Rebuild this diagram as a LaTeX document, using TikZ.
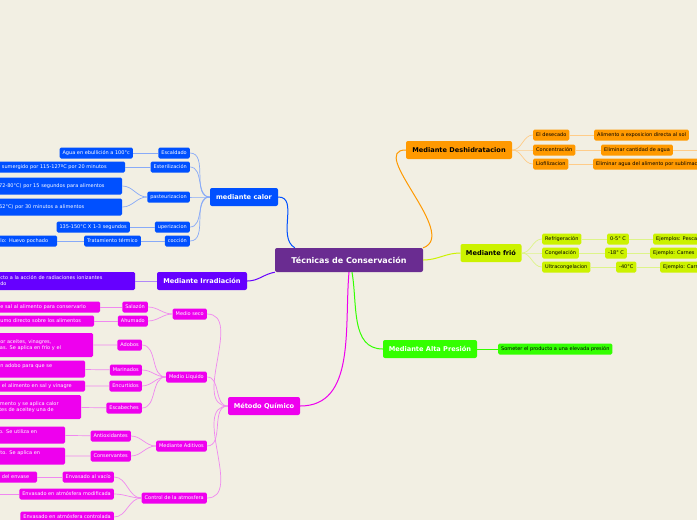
\documentclass[tikz,border=0pt]{standalone}
\usepackage{fontspec}
\setmainfont{DejaVu Sans}
\begin{document}
\begin{tikzpicture}[x=1pt,y=-1pt,
 box/.style={rounded corners=1.5pt,inner xsep=3pt,inner ysep=1.5pt,minimum height=11pt,font=\fontsize{5}{6}\selectfont,text=white},
 big/.style={rounded corners=2pt,inner xsep=5pt,minimum height=18pt,font=\fontsize{6.6}{8}\bfseries\selectfont,text=white},
 cut/.style={box,anchor=west,align=left},
 lk/.style={line width=0.7pt,out=180,in=0},
 rk/.style={line width=0.7pt,out=0,in=180}]
\definecolor{bg}{HTML}{F2EFE3}
\definecolor{pur}{HTML}{6A2C91}
\definecolor{ora}{HTML}{FF9900}\definecolor{oral}{HTML}{FFCC88}
\definecolor{lim}{HTML}{CCF200}\definecolor{liml}{HTML}{DDF488}
\definecolor{grn}{HTML}{33FF00}
\definecolor{mag}{HTML}{EE00EE}\definecolor{magl}{HTML}{F088F0}
\definecolor{vio}{HTML}{6600FF}\definecolor{viol}{HTML}{B088F8}
\definecolor{blu}{HTML}{0050FF}\definecolor{blul}{HTML}{88AAF8}
\fill[bg] (0,0) rectangle (697,520);
\useasboundingbox (0,0) rectangle (697,520);
\clip (0,0) rectangle (697,520);
% central
\node[big,fill=pur,minimum width=148pt,minimum height=24pt,font=\fontsize{8}{9}\bfseries\selectfont] (c) at (349,260) {Técnicas de Conservación};
% deshidratacion
\node[big,fill=ora,text=black,minimum width=106pt] (d) at (459,150) {Mediante Deshidratacion};
\node[box,fill=ora,text=black,anchor=west] (d1) at (533,135) {El desecado};
\node[box,fill=ora,text=black,anchor=west] (d2) at (533,150) {Concentración};
\node[box,fill=ora,text=black,anchor=west] (d3) at (533,164) {Liofilizacion};
\node[box,fill=ora,text=black,anchor=west] (d1a) at (594,135) {Alimento a exposicion directa al sol};
\node[box,fill=ora,text=black,anchor=west] (d2a) at (601,150) {Eliminar cantidad de agua};
\node[box,fill=ora,text=black,anchor=west] (d3a) at (593,164) {Eliminar agua del alimento por sublimación};
\coordinate (d2b) at (700,150);
\draw[ora,line width=1pt] (c.north east) to[out=20,in=180] (d.west);
\foreach \n in {d1,d2,d3} \draw[oral,rk] (d.east) to (\n.west);
\draw[oral,rk] (d1) -- (d1a); \draw[oral,rk] (d2) -- (d2a); \draw[oral,rk] (d3) -- (d3a); \draw[oral,line width=0.7pt] (d2a) -- (d2b);
% frio
\node[big,fill=lim,text=black,minimum width=61pt] (f) at (491,253) {Mediante frió};
\node[box,fill=lim,text=black,anchor=west] (f1) at (542,239) {Refrigeración};
\node[box,fill=lim,text=black,anchor=west] (f2) at (542,253) {Congelación};
\node[box,fill=lim,text=black,anchor=west] (f3) at (542,267) {Ultracongelacion};
\node[box,fill=lim,text=black,anchor=west] (f1a) at (607,239) {0-5° C};
\node[box,fill=lim,text=black,anchor=west] (f2a) at (605,253) {-18° C};
\node[box,fill=lim,text=black,anchor=west] (f3a) at (616,267) {-40°C};
\node[box,fill=lim,text=black,anchor=west] (f1b) at (653,239) {Ejemplos: Pescados};
\node[box,fill=lim,text=black,anchor=west] (f2b) at (650,253) {Ejemplo: Carnes};
\node[box,fill=lim,text=black,anchor=west] (f3b) at (660,267) {Ejemplo: Carnes};
\draw[lim,line width=1pt] (c.east) to[out=0,in=180] (f.west);
\foreach \n in {f1,f2,f3} \draw[liml,rk] (f.east) to (\n.west);
\draw[liml,rk] (f1)--(f1a) (f1a)--(f1b) (f2)--(f2a) (f2a)--(f2b) (f3)--(f3a) (f3a)--(f3b);
% alta presion
\node[big,fill=grn,minimum width=94pt] (p) at (430,349) {Mediante Alta Presión};
\node[box,fill=grn,text=black,anchor=west] (p1) at (498,349) {Someter el producto a una elevada presión};
\draw[grn,line width=1pt] (c.south) ++(3,0) coordinate (cp) to[out=-80,in=180] (p.west);
\draw[grn,line width=0.7pt] (p) -- (p1);
% irradiacion
\node[big,fill=vio,minimum width=90pt] (i) at (202,281) {Mediante Irradiación};
\node[cut,fill=vio,text width=135pt,minimum height=18pt] (i1) at (-6,281) {ucto a la acción de radiaciones ionizantes\\odo};
\draw[vio,line width=1pt] (c.south west) to[out=190,in=0] (i.east);
\draw[viol,line width=0.7pt] (i) -- (i1);
% calor
\node[big,fill=blu,minimum width=68pt] (k) at (244,197) {mediante calor};
\node[box,fill=blu,anchor=east] (k1) at (190,153) {Escaldado};
\node[box,fill=blu,anchor=east] (k2) at (190,167) {Esterilización};
\node[box,fill=blu,anchor=east] (k3) at (190,197) {pasteurizacion};
\node[box,fill=blu,anchor=east] (k4) at (190,227) {uperizacion};
\node[box,fill=blu,anchor=east] (k5) at (190,241) {cocción};
\node[box,fill=blu,anchor=east] (k1a) at (133,153) {Agua en ebullición a 100°c};
\node[cut,fill=blu,text width=125pt] (k2a) at (-6,167) {a sumergido por 115-127ºC por 20 minutos};
\node[cut,fill=blu,text width=122pt,minimum height=17pt] (k3a) at (-6,186) {(72-80°C) por 15 segundos para alimentos};
\node[cut,fill=blu,text width=122pt,minimum height=17pt] (k3b) at (-6,207) {(62°C) por 30 minutos a alimentos};
\node[box,fill=blu,anchor=east] (k4a) at (130,227) {135-150°C X 1-3 segundos};
\node[box,fill=blu,anchor=east] (k5a) at (141,241) {Tratamiento térmico};
\node[cut,fill=blu,text width=57pt] (k5b) at (-6,241) {plo: Huevo pochado};
\draw[blu,line width=1pt] (c.north west) ++(20,0) to[out=150,in=0] (k.east);
\foreach \n in {k1,k2,k3,k4,k5} \draw[blul,lk] (k.west) to (\n.east);
\draw[blul,line width=0.7pt] (k1)--(k1a) (k2)--(k2a) (k4)--(k4a) (k5)--(k5a) (k5a)--(k5b);
\draw[blul,lk] (k3.west) to (k3a.east); \draw[blul,lk] (k3.west) to (k3b.east);
% quimico
\node[big,fill=mag,minimum width=72pt] (q) at (264,406) {Método Químico};
\draw[mag,line width=1pt] (c.south) to[out=-95,in=0] (q.east);
\node[box,fill=mag,anchor=east] (q1) at (207,314) {Medio seco};
\node[box,fill=mag,anchor=east] (q2) at (207,377) {Medio Liquido};
\node[box,fill=mag,anchor=east] (q3) at (207,446) {Mediante Aditivos};
\node[box,fill=mag,anchor=east] (q4) at (207,498) {Control de la atmosfera};
\foreach \n in {q1,q2,q3,q4} \draw[magl,lk] (q.west) to (\n.east);
\node[box,fill=mag,anchor=east] (s1) at (148,307) {Salazón};
\node[box,fill=mag,anchor=east] (s2) at (148,321) {Ahumado};
\node[cut,fill=mag,text width=100pt] (s1a) at (-6,307) {de sal al alimento para conservarlo};
\node[cut,fill=mag,text width=94pt] (s2a) at (-6,321) {humo directo sobre los alimentos};
\foreach \n in {s1,s2} \draw[magl,lk] (q1.west) to (\n.east);
\draw[magl,line width=0.7pt] (s1)--(s1a) (s2)--(s2a);
\node[box,fill=mag,anchor=east] (l1) at (142,345) {Adobos};
\node[box,fill=mag,anchor=east] (l2) at (142,370) {Marinados};
\node[box,fill=mag,anchor=east] (l3) at (142,386) {Encurtidos};
\node[box,fill=mag,anchor=east] (l4) at (142,408) {Escabeches};
\node[cut,fill=mag,text width=93pt,minimum height=24pt] (l1a) at (-6,345) {por aceites, vinagres,\\cas. Se aplica en frío y el};
\node[cut,fill=mag,text width=85pt,minimum height=17pt] (l2a) at (-6,369) {on adobo para que se\\\strut};
\node[cut,fill=mag,text width=85pt] (l3a) at (-6,386) {e el alimento en sal y vinagre};
\node[cut,fill=mag,text width=81pt,minimum height=24pt] (l4a) at (-6,407) {limento y se aplica calor\\rtes de aceitey una de};
\foreach \n in {l1,l2,l3,l4} \draw[magl,lk] (q2.west) to (\n.east);
\draw[magl,line width=0.7pt] (l1)--(l1a) (l2)--(l2a) (l3)--(l3a) (l4)--(l4a);
\node[box,fill=mag,anchor=east] (a1) at (131,436) {Antioxidantes};
\node[box,fill=mag,anchor=east] (a2) at (131,456) {Conservantes};
\node[cut,fill=mag,text width=65pt,minimum height=17pt] (a1a) at (-6,435) {to. Se utiliza en\\\strut};
\node[cut,fill=mag,text width=65pt,minimum height=17pt] (a2a) at (-6,456) {nto. Se aplica en\\\strut};
\foreach \n in {a1,a2} \draw[magl,lk] (q3.west) to (\n.east);
\draw[magl,line width=0.7pt] (a1)--(a1a) (a2)--(a2a);
\node[box,fill=mag,anchor=east] (e1) at (114,477) {Envasado al vacío};
\node[box,fill=mag,anchor=east] (e2) at (114,494) {Envasado en atmósfera modificada};
\node[box,fill=mag,anchor=east] (e3) at (114,517) {Envasado en atmósfera controlada};
\node[cut,fill=mag,text width=37pt] (e1a) at (-6,477) {o del envase};
\coordinate (e2a) at (0,494);
\foreach \n in {e1,e2,e3} \draw[magl,lk] (q4.west) to (\n.east);
\draw[magl,line width=0.7pt] (e1)--(e1a) (e2.west)--(e2a);
\end{tikzpicture}
\end{document}
